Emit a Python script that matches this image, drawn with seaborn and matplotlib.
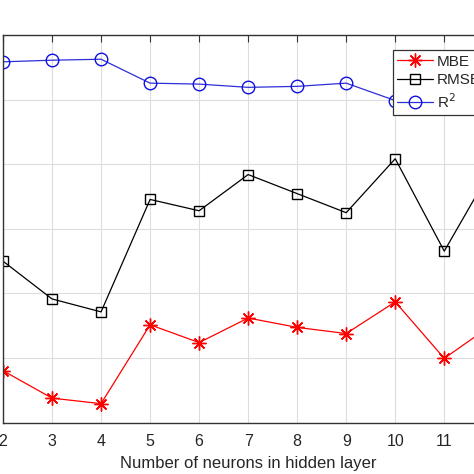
import matplotlib
matplotlib.use('Agg')
import numpy as np
import pandas as pd
import seaborn as sns
import matplotlib.pyplot as plt

neurons = [2, 3, 4, 5, 6, 7, 8, 9, 10, 11, 12]
mbe = [0.161, 0.076, 0.059, 0.303, 0.248, 0.324, 0.295, 0.276, 0.374, 0.199, 0.306]
rmse = [0.500, 0.383, 0.343, 0.691, 0.656, 0.768, 0.709, 0.650, 0.817, 0.531, 0.795]
r2 = [1.117, 1.122, 1.125, 1.051, 1.048, 1.038, 1.041, 1.051, 0.997, 1.02, 1.04]
x_labels = ['2', '3', '4', '5', '6', '7', '8', '9', '10', '11', '']
y_ticks = [0.0, 0.2, 0.4, 0.6, 0.8, 1.0, 1.2]

sns.set_style('white')
plt.rcParams['font.family'] = ['Liberation Sans', 'DejaVu Sans']

data = pd.DataFrame({'n': neurons, 'MBE': mbe, 'RMSE': rmse, 'R2': r2})

fig = plt.figure(figsize=(4.74, 4.74), dpi=100)
# axes run off the right edge of the picture, like the cropped original
ax = fig.add_axes([3 / 474, 51.3 / 474, 490.3 / 474, 387.7 / 474])

sns.lineplot(data=data, x='n', y='MBE', ax=ax, color='red', lw=0.9,
             marker=(8, 2, 0), markersize=10, markeredgewidth=1.0,
             markeredgecolor='red', label='MBE')
sns.lineplot(data=data, x='n', y='RMSE', ax=ax, color='black', lw=0.9,
             marker='s', markersize=7, markerfacecolor='none',
             markeredgecolor='black', markeredgewidth=1.0, label='RMSE')
sns.lineplot(data=data, x='n', y='R2', ax=ax, color='#2f2fd8', lw=0.9,
             marker='o', markersize=9, markerfacecolor='none',
             markeredgecolor='#1010e0', markeredgewidth=1.0, label='R$^2$')

ax.set_xlim(2, 12)
ax.set_ylim(0, 1.2)
ax.set_xticks(neurons)
ax.set_xticklabels(x_labels)
ax.set_yticks(y_ticks)
ax.set_yticklabels([])
ax.grid(True, color='#dddddd', lw=0.8)
ax.tick_params(direction='in', length=5, top=True, right=True, labelsize=11.5,
               color='#333333', pad=8)
ax.set_xlabel('Number of neurons in hidden layer', fontsize=12, labelpad=5)
ax.set_ylabel('')
for s in ax.spines.values():
    s.set_color('#333333')
    s.set_linewidth(1.0)

leg = ax.legend(loc='upper left', bbox_to_anchor=(0.795, 0.961), fontsize=11,
                frameon=True, fancybox=False, framealpha=1, edgecolor='#333333',
                handlelength=2.3, borderpad=0.3, labelspacing=0.3,
                handletextpad=0.3, borderaxespad=0)
leg.get_frame().set_linewidth(0.9)

fig.savefig('out.png', dpi=100)
